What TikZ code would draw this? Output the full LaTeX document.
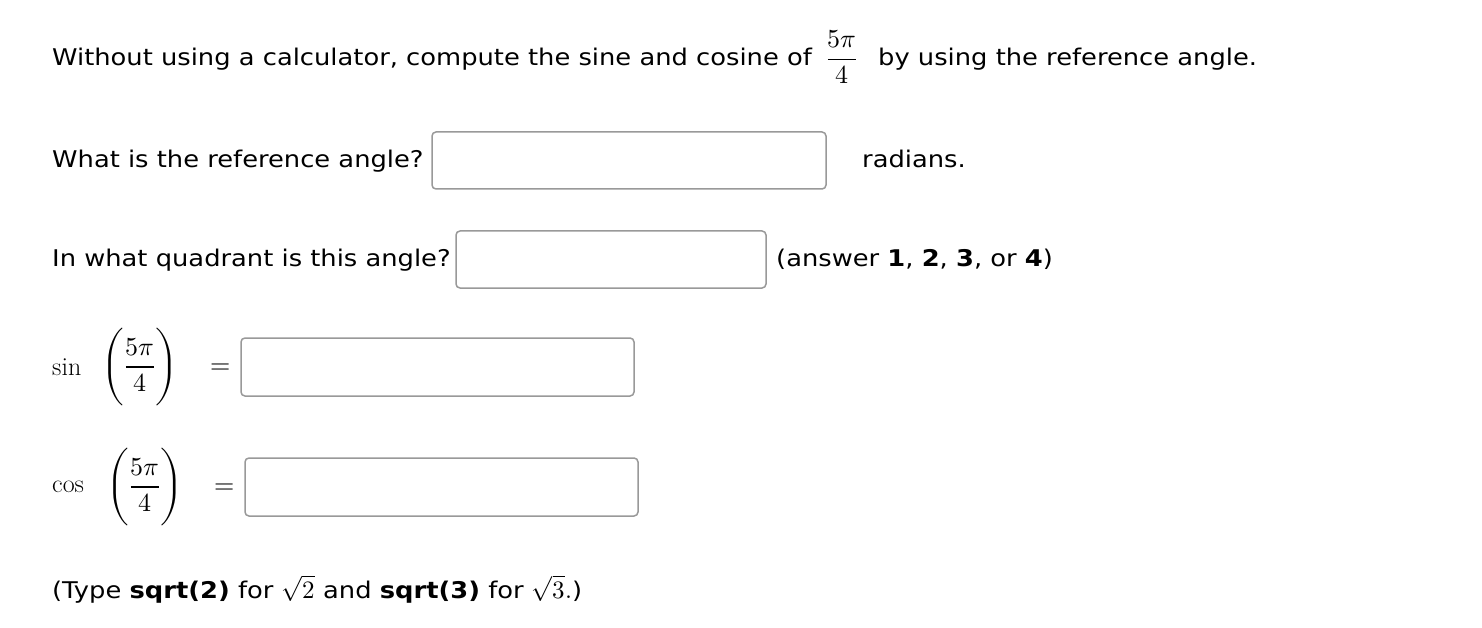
\documentclass[tikz,border=0pt]{standalone}
\usepackage{amsmath}
\usepackage{fontspec}
\setmainfont[FakeStretch=1.12]{DejaVu Sans}
\usepackage{unicode-math}
\setmathfont{Latin Modern Math}
\setmathrm{Latin Modern Roman}
\begin{document}
\begin{tikzpicture}[x=1pt,y=-1pt,
  txt/.style={anchor=base west,inner sep=0pt,font=\fontsize{23}{26}\selectfont},
  mth/.style={inner sep=0pt,font=\fontsize{26}{30}\selectfont},
  ansbox/.style={draw=black!40,line width=1.5pt,rounded corners=4pt}]
\useasboundingbox[fill=white] (0,0) rectangle (1482,628);
\node[txt] (t1) at (52,66) {Without using a calculator, compute the sine and cosine of};
\node[mth,anchor=center] (fr) at (842,57) {$\dfrac{5\pi}{4}$};
\node[txt] (t1b) at (878,66) {by using the reference angle.};
\node[txt] (t2) at (52,168) {What is the reference angle?};
\draw[ansbox] (432,132) rectangle (826,189);
\node[txt] (t2b) at (862,168) {radians.};
\node[txt] (t3) at (52,266) {In what quadrant is this angle?};
\draw[ansbox] (456,231) rectangle (766,288);
\node[txt] (t3b) at (776,266) {(answer \textbf{1}, \textbf{2}, \textbf{3}, or \textbf{4})};
\node[mth,anchor=west] (s) at (52,367) {$\mathrm{sin}$};
\node[mth,anchor=center] (sp) at (140,367) {$\Biggl(\dfrac{5\pi}{4}\Biggr)$};
\node[mth,anchor=center] (se) at (221,369) {$=$};
\draw[ansbox] (241,338) rectangle (634,396);
\node[mth,anchor=west] (c) at (52,487) {$\mathrm{cos}$};
\node[mth,anchor=center] (cp) at (145,487) {$\Biggl(\dfrac{5\pi}{4}\Biggr)$};
\node[mth,anchor=center] (ce) at (225,489) {$=$};
\draw[ansbox] (245,458) rectangle (638,516);
\node[txt] (t4) at (52,598) {(Type \textbf{sqrt(2)} for {\fontsize{25}{28}\selectfont$\sqrt{2}$} and \textbf{sqrt(3)} for {\fontsize{25}{28}\selectfont$\sqrt{3}.$})};
\end{tikzpicture}
\end{document}
